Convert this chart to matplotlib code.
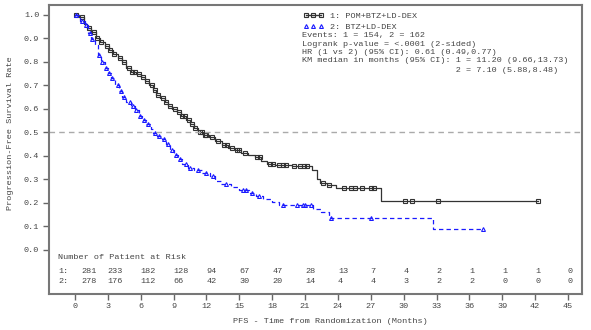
import numpy as np
import matplotlib
matplotlib.use("Agg")
import matplotlib.pyplot as plt
from matplotlib.lines import Line2D

# KM step points (time in months, survival after the drop)
t1 = [0, 0.4, 0.8, 1.1, 1.5, 1.9, 2.3, 2.7, 3.1, 3.5, 3.9, 4.3, 4.7, 5.1, 5.6, 6.0, 6.4, 6.8,
      7.1, 7.4, 7.8, 8.2, 8.5, 8.9, 9.3, 9.7, 10.1, 10.5, 10.9, 11.2, 11.7, 12.2, 12.8, 13.4,
      14.0, 14.6, 15.2, 15.8, 16.4, 17.0, 17.5, 18.3, 19.8, 21.6, 22.1, 22.4, 23.0, 23.8, 27.9]
s1 = [1.0, 0.989, 0.96, 0.945, 0.925, 0.90, 0.885, 0.868, 0.85, 0.832, 0.815, 0.797, 0.775,
      0.757, 0.748, 0.735, 0.718, 0.70, 0.68, 0.66, 0.645, 0.63, 0.612, 0.598, 0.585, 0.568,
      0.552, 0.537, 0.52, 0.50, 0.49, 0.478, 0.462, 0.448, 0.435, 0.424, 0.413, 0.405, 0.393,
      0.378, 0.366, 0.362, 0.355, 0.34, 0.30, 0.285, 0.275, 0.262, 0.207]
end1 = 42.3
cens1 = [0.1, 0.6, 1.3, 1.7, 2.0, 2.4, 2.9, 3.2, 3.6, 4.1, 4.5, 4.9, 5.2, 5.5, 5.8, 6.2, 6.6,
         7.0, 7.3, 7.6, 8.0, 8.3, 8.7, 9.1, 9.5, 9.8, 10.0, 10.4, 10.7, 11.0, 11.4, 11.6, 11.9,
         12.0, 12.5, 13.1, 13.6, 13.9, 14.3, 14.8, 15.0, 15.5, 16.6, 16.9, 17.8, 18.1, 18.6,
         19.0, 19.3, 20.0, 20.5, 20.9, 21.2, 22.6, 23.2, 24.6, 25.2, 25.6, 26.2, 27.0, 27.3,
         30.1, 30.8, 33.1, 42.3]

t2 = [0, 0.5, 0.9, 1.2, 1.5, 1.8, 2.1, 2.4, 2.7, 3.0, 3.3, 3.7, 4.0, 4.3, 4.7, 5.1, 5.5, 5.8,
      6.1, 6.5, 6.9, 7.1, 7.5, 7.9, 8.3, 8.7, 9.0, 9.4, 9.8, 10.3, 10.9, 11.6, 12.3, 12.8,
      13.3, 14.2, 15.0, 15.9, 16.5, 17.2, 18.0, 18.6, 21.7, 22.5, 23.2, 32.7]
s2 = [1.0, 0.975, 0.955, 0.92, 0.895, 0.87, 0.83, 0.80, 0.775, 0.75, 0.73, 0.70, 0.675, 0.65,
      0.628, 0.61, 0.593, 0.57, 0.552, 0.535, 0.515, 0.497, 0.485, 0.47, 0.45, 0.425, 0.405,
      0.385, 0.365, 0.35, 0.34, 0.325, 0.315, 0.295, 0.28, 0.268, 0.255, 0.24, 0.228, 0.215,
      0.205, 0.193, 0.175, 0.162, 0.137, 0.088]
end2 = 37.2
cens2 = [0.1, 0.6, 1.0, 1.4, 1.6, 2.2, 2.5, 2.8, 3.1, 3.4, 3.9, 4.2, 4.5, 5.0, 5.3, 5.6, 5.9,
         6.3, 6.7, 7.3, 7.7, 8.1, 8.5, 8.9, 9.2, 9.6, 10.1, 10.5, 11.2, 12.0, 12.6, 13.8, 15.3,
         15.6, 16.2, 16.8, 19.0, 20.3, 20.8, 21.0, 21.5, 23.4, 27.0, 37.2]

risk_times = [0, 3, 6, 9, 12, 15, 18, 21, 24, 27, 30, 33, 36, 39, 42, 45]
risk1 = [281, 233, 182, 128, 94, 67, 47, 28, 13, 7, 4, 2, 1, 1, 1, 0]
risk2 = [278, 176, 112, 66, 42, 30, 20, 14, 4, 4, 3, 2, 2, 0, 0, 0]

stats_lines = ["Events: 1 = 154, 2 = 162",
               "Logrank p-value = <.0001 (2-sided)",
               "HR (1 vs 2) (95% CI): 0.61 (0.49,0.77)",
               "KM median in months (95% CI): 1 = 11.20 (9.66,13.73)",
               " " * 30 + "2 = 7.10 (5.88,8.48)"]

mono = "Liberation Mono"
tc = "#444444"
fs = 6.1
c1 = "#333333"
c2 = "#1a1aff"
ms = 2.8

fig = plt.figure(figsize=(5.91, 3.30), dpi=100)
ax = fig.add_axes([0.0829, 0.1106, 0.9019, 0.8742])


def at(ts, ss, x):
    i = np.searchsorted(ts, x, side="right") - 1
    return np.asarray(ss)[i]


ax.plot(t1 + [end1], s1 + [s1[-1]], drawstyle="steps-post", color=c1, lw=0.9)
ax.plot(cens1, at(t1, s1, cens1), ls="none", marker="s", ms=ms, mfc="none", mec=c1, mew=0.8)

ax.plot(t2 + [end2], s2 + [s2[-1]], drawstyle="steps-post", color=c2, lw=0.9,
        dashes=(3.5, 2.5))
ax.plot(cens2, at(t2, s2, cens2), ls="none", marker="^", ms=ms, mfc="none", mec=c2, mew=0.8)

ax.axhline(0.5, color="#aaaaaa", lw=1.0, dashes=(4, 3))

ax.set_xlim(-2.37, 46.28)
ax.set_ylim(-0.185, 1.041)
ax.set_xticks(risk_times)
ax.set_yticks(np.arange(0, 1.01, 0.1))
ax.set_yticklabels([f"{v:.1f}" for v in np.arange(0, 1.01, 0.1)])
ax.tick_params(colors="#666666", labelcolor=tc, labelsize=fs, length=4, width=1, pad=3)
for lab in ax.get_xticklabels() + ax.get_yticklabels():
    lab.set_family(mono)
for sp in ax.spines.values():
    sp.set_color("#777777")
    sp.set_linewidth(1.5)

ax.set_ylabel("Progression-Free Survival Rate", family=mono, fontsize=fs, color=tc)
ax.yaxis.set_label_coords(-0.065, 0.557)
ax.set_xlabel("PFS - Time from Randomization (Months)", family=mono, fontsize=fs, color=tc)
ax.xaxis.set_label_coords(0.527, -0.085)

# number at risk
ax.text(-1.55, -0.034, "Number of Patient at Risk", family=mono, fontsize=fs, color=tc,
        va="center")
ax.text(-1.55, -0.093, "1:", family=mono, fontsize=fs, color=tc, va="center")
ax.text(-1.55, -0.132, "2:", family=mono, fontsize=fs, color=tc, va="center")
for x, a, b in zip(risk_times, risk1, risk2):
    ax.text(x + 0.55 if x == 0 else x, -0.093, str(a), family=mono, fontsize=fs, color=tc,
            va="center", ha="left")
    ax.text(x + 0.55 if x == 0 else x, -0.132, str(b), family=mono, fontsize=fs, color=tc,
            va="center", ha="left")

# legend and stats
fig.legend(handles=[Line2D([], [], color=c1, lw=1, marker="s", ms=ms, mfc="none", mew=0.8),
                    Line2D([], [], color=c2, lw=0, marker="^", ms=ms, mfc="none", mew=0.8)],
           labels=["1: POM+BTZ+LD-DEX", "2: BTZ+LD-DEX"], loc="upper left",
           bbox_to_anchor=(299 / 591, 1 - 8 / 330), frameon=False, numpoints=3,
           handlelength=2.4, handletextpad=0.8, labelspacing=0.3, borderpad=0,
           prop={"family": mono, "size": fs}, labelcolor=tc)

ys = [35, 44, 52.5, 61, 70]
for y, line in zip(ys, stats_lines):
    fig.text(302 / 591, 1 - y / 330, line, family=mono, fontsize=fs, color=tc, va="center")

fig.savefig("out.png", dpi=100)
